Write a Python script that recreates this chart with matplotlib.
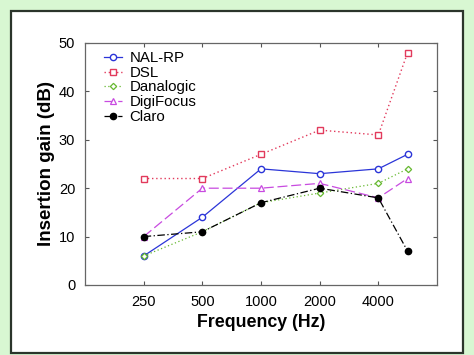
import numpy as np
import matplotlib.pyplot as plt
from matplotlib.patches import Rectangle

plt.rcParams['font.family'] = ['Liberation Sans', 'DejaVu Sans']

freqs = [250, 500, 1000, 2000, 4000, 5650]
tick_freqs = [250, 500, 1000, 2000, 4000]
nal_rp = [6, 14, 24, 23, 24, 27]
dsl = [22, 22, 27, 32, 31, 48]
danalogic = [6, 11, 17, 19, 21, 24]
digifocus = [10, 20, 20, 21, 18, 22]
claro = [10, 11, 17, 20, 18, 7]

fig = plt.figure(figsize=(4.74, 3.55), dpi=100)
fig.patch.set_facecolor('#d8f7d2')

# white panel with dark frame
fig.patches.append(Rectangle((10.5 / 474, 2.5 / 355), 452.5 / 474, 341.5 / 355,
                             transform=fig.transFigure, facecolor='white',
                             edgecolor='#2b352b', linewidth=1.6, zorder=-5))

ax = fig.add_axes([85 / 474, 1 - 285 / 355, 352 / 474, 242 / 355])
ax.set_zorder(2)
ax.set_xscale('log', base=2)

ax.plot(freqs, nal_rp, color='#2b35d8', ls='-', lw=0.9, marker='o', ms=4.5,
        mfc='white', mew=1.0, label='NAL-RP')
ax.plot(freqs, dsl, color='#e23a5c', ls=(0, (1, 2)), lw=1.0, marker='s', ms=4.5,
        mfc='white', mew=1.0, label='DSL')
ax.plot(freqs, danalogic, color='#66b830', ls=(0, (1, 2)), lw=0.9, marker='D', ms=3.2,
        mfc='white', mew=0.9, label='Danalogic')
ax.plot(freqs, digifocus, color='#c84be0', ls=(0, (8, 3)), lw=0.9, marker='^', ms=4.5,
        mfc='white', mew=0.9, label='DigiFocus')
ax.plot(freqs, claro, color='black', ls=(0, (6, 2, 1, 2)), lw=0.9, marker='o', ms=4.5,
        mfc='black', label='Claro')

ax.set_xlim(125, 8000)
ax.set_ylim(0, 50)
ax.set_xticks(tick_freqs)
ax.set_xticklabels([str(f) for f in tick_freqs])
ax.xaxis.set_minor_locator(plt.NullLocator())
ax.set_yticks(range(0, 51, 10))
ax.tick_params(direction='in', length=3, labelsize=10.5, top=True, right=True,
               color='#555555', pad=7)
for s in ax.spines.values():
    s.set_color('#666666')
    s.set_linewidth(0.9)

ax.set_xlabel('Frequency (Hz)', fontsize=12.8, fontweight='bold', labelpad=4)
ax.set_ylabel('Insertion gain (dB)', fontsize=13.5, fontweight='bold', labelpad=3)

ax.legend(loc='upper left', bbox_to_anchor=(19 / 352, 1 - 8 / 242), frameon=False,
          fontsize=10.8, handlelength=1.2, handletextpad=0.5, labelspacing=0.05,
          borderpad=0, borderaxespad=0)

fig.savefig('out.png', dpi=100, facecolor=fig.get_facecolor())
